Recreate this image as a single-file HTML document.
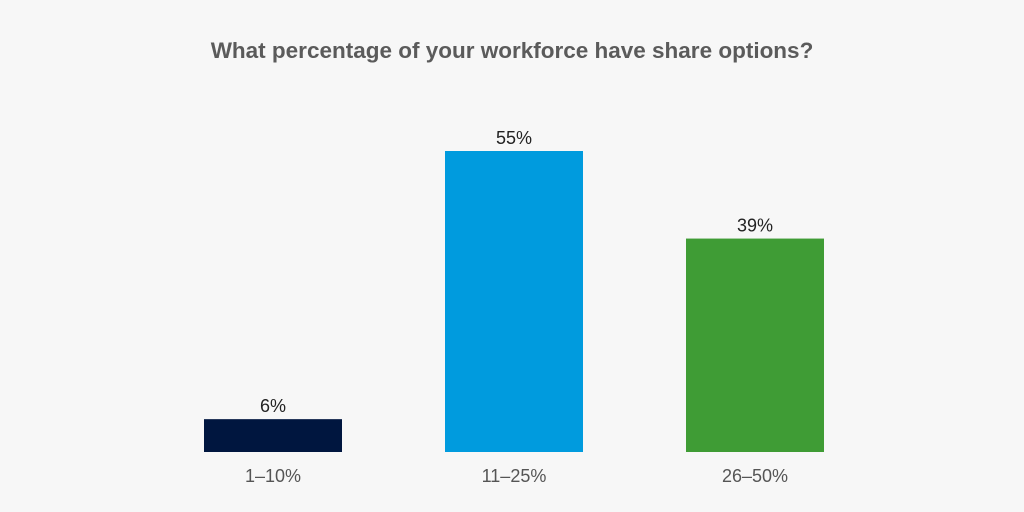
<!DOCTYPE html>
<html><head><meta charset="utf-8"><style>
html,body{margin:0;padding:0;background:#f7f7f7;}
svg{display:block;font-family:"Liberation Sans",sans-serif;}
</style></head><body>
<svg id="chart" width="1024" height="512" viewBox="0 0 1024 512">
<rect x="0" y="0" width="1024" height="512" fill="#f7f7f7"/>
<text x="512" y="58" text-anchor="middle" font-size="22.5" font-weight="bold" fill="#5b5b5b">What percentage of your workforce have share options?</text>
<g id="bars"></g>
</svg>
<script>
const categories = ["1–10%", "11–25%", "26–50%"];
const values = [6, 55, 39];
const valueLabels = ["6%", "55%", "39%"];
const colors = ["#00163f", "#009bde", "#3f9c35"];

const baseline = 452, pxPerUnit = 301/55;
const firstCenter = 273, step = 241, barW = 138;
function xScale(i){ return firstCenter + i*step; }
function yScale(v){ return baseline - v*pxPerUnit; }
const ns = "http://www.w3.org/2000/svg";
const g = document.getElementById('bars');
categories.forEach((c,i)=>{
  const r = document.createElementNS(ns,'rect');
  
  
  r.setAttribute('x', xScale(i)-barW/2);
  r.setAttribute('y', yScale(values[i]));
  r.setAttribute('width', barW);
  r.setAttribute('height', baseline - yScale(values[i]));
  r.setAttribute('fill', colors[i]);
  g.appendChild(r);
  const t = document.createElementNS(ns,'text');
  
  
  t.setAttribute('x', xScale(i));
  t.setAttribute('y', yScale(values[i]) - 7);
  t.setAttribute('text-anchor','middle');
  t.setAttribute('font-size','18');
  t.setAttribute('fill','#222');
  t.textContent = valueLabels[i];
  g.appendChild(t);
  const l = document.createElementNS(ns,'text');
  
  
  l.setAttribute('x', xScale(i));
  l.setAttribute('y', 482);
  l.setAttribute('text-anchor','middle');
  l.setAttribute('font-size','18');
  l.setAttribute('fill','#555');
  l.textContent = c;
  g.appendChild(l);
});
</script>
</body></html>
